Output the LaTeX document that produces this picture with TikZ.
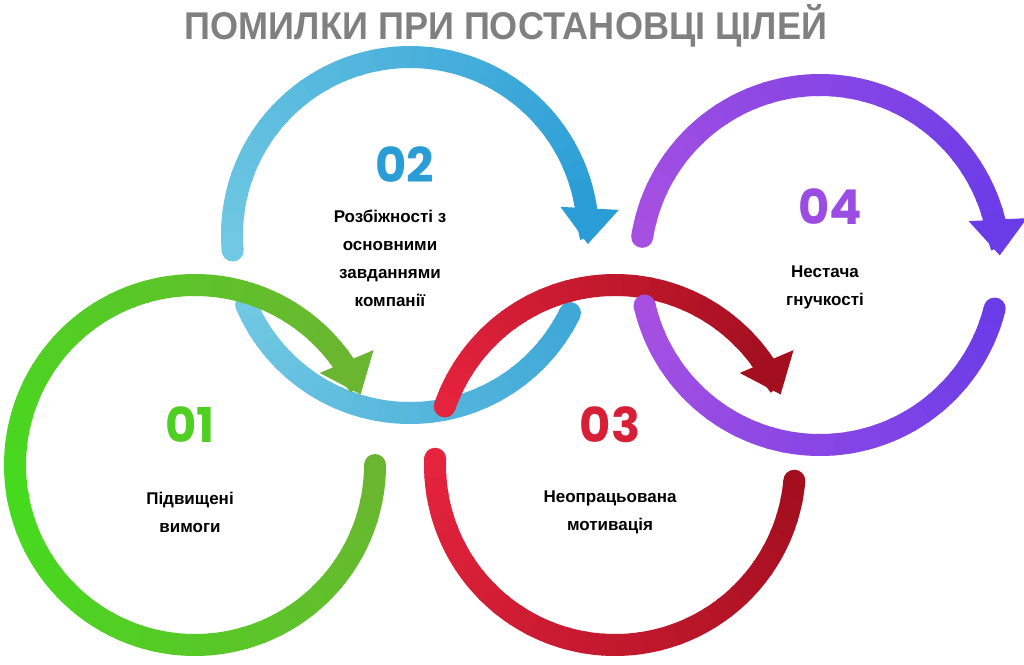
\documentclass[tikz,border=0pt]{standalone}
\usepackage{fontspec}
\usepackage{graphicx}
\setmainfont{Liberation Sans}
\newfontfamily\numfont{Poppins}
\usetikzlibrary{arrows.meta}
\newcommand\garc[7]{%
 \foreach \i in {0,...,29}{%
  \pgfmathsetmacro\aa{#4+(#5-#4)*\i/30}%
  \pgfmathsetmacro\bb{#4+(#5-#4)*(\i+1)/30+0.6}%
  \pgfmathsetmacro\pc{100*\i/29}%
  \draw[ring, color=#7!\pc!#6] ([shift={(\aa:#3)}]#1,#2) arc[start angle=\aa,end angle=\bb,radius=#3];}%
 \fill[#6] ([shift={(#4:#3)}]#1,#2) circle[radius=11];
 \fill[#7] ([shift={(#5:#3)}]#1,#2) circle[radius=11];}
\newcommand\garr[7]{%
 \garc{#1}{#2}{#3}{#4}{#5-9}{#6}{#7}%
 \draw[ring,color=#7,-{Triangle[length=36pt,width=56pt]}] ([shift={(#5-10:#3)}]#1,#2) arc[start angle=#5-10,end angle=#5,radius=#3];}
\tikzset{ring/.style={line width=22pt},
 lbl/.style={font=\bfseries\fontsize{17}{28}\selectfont,align=center,text=black},
 num/.style={font=\numfont\bfseries\fontsize{48}{48}\selectfont}}
\definecolor{gA}{HTML}{45DA1E}\definecolor{gB}{HTML}{6BB630}
\definecolor{bA}{HTML}{70C8E2}\definecolor{bB}{HTML}{2A9DD6}\definecolor{bC}{HTML}{3FA8D8}
\definecolor{rA}{HTML}{E4233D}\definecolor{rB}{HTML}{A30F1F}
\definecolor{pA}{HTML}{A650E2}\definecolor{pB}{HTML}{6A3CE8}
\begin{document}
\begin{tikzpicture}[x=1pt,y=-1pt]
\useasboundingbox[fill=white] (0,0) rectangle (1024,664);
\node[text=black!50,font=\bfseries] (title) at (506,26) {\resizebox{642pt}{35pt}{ПОМИЛКИ ПРИ ПОСТАНОВЦІ ЦІЛЕЙ}};
% blue
\garr{410}{235}{178}{175}{363}{bA}{bB}
\garc{410}{235}{178}{26}{157}{bC}{bA}
% green
\garc{195}{465}{180}{0}{170}{gB}{gA}
\garr{195}{465}{180}{169}{337}{gA}{gB}
% red
\garc{615}{465}{180}{5}{182}{rB}{rA}
\garr{615}{465}{180}{199}{337}{rA}{rB}
% purple
\garr{820}{265}{180}{189}{357}{pA}{pB}
\garc{820}{265}{180}{14}{167}{pB}{pA}
\node[num,text=bB] (n2) at (405,165) {02};
\node[lbl] (t2) at (390,258) {Розбіжності з\\основними\\завданнями\\компанії};
\node[num,text=gA!70!gB] (n1) at (190,425) {01};
\node[lbl] (t1) at (190,512) {Підвищені\\вимоги};
\node[num,text=rA!80!rB] (n3) at (610,425) {03};
\node[lbl] (t3) at (610,512) {Неопрацьована\\мотивація};
\node[num,text=pA!80!pB] (n4) at (830,207) {04};
\node[lbl] (t4) at (825,287) {Нестача\\гнучкості};
\end{tikzpicture}
\end{document}
